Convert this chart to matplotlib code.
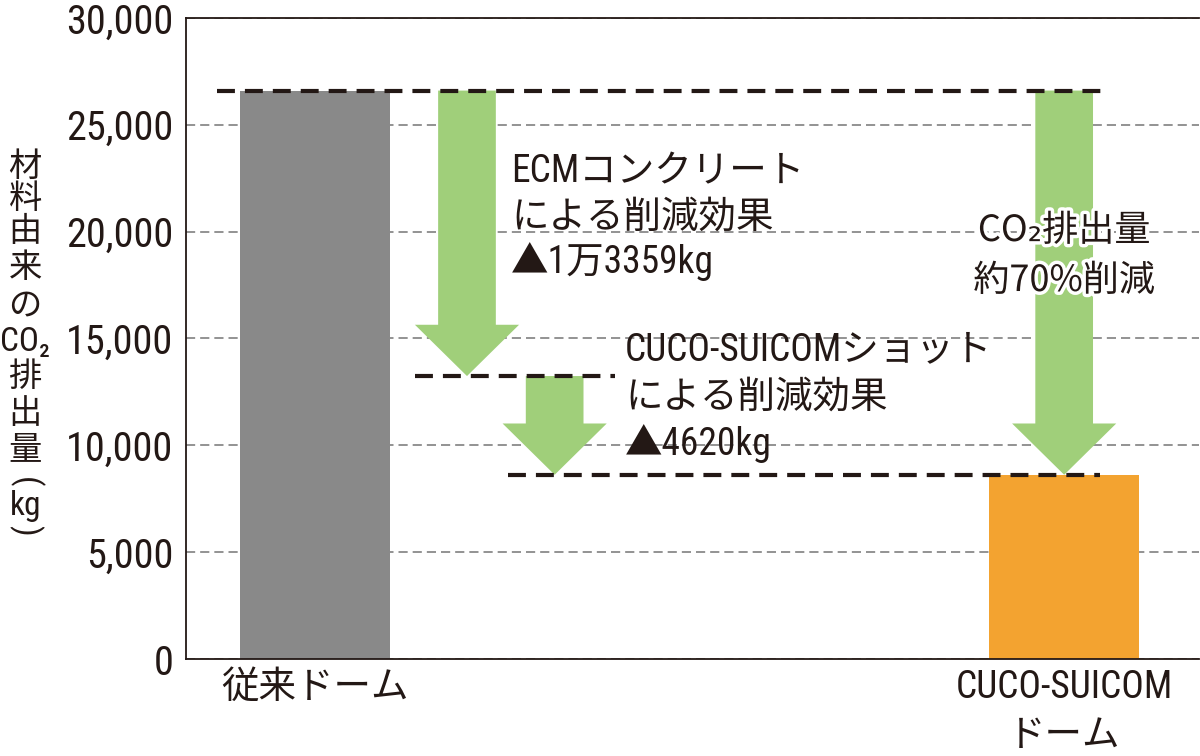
import matplotlib
matplotlib.use('Agg')
import matplotlib.pyplot as plt
import matplotlib.patheffects as pe
from matplotlib import font_manager
from matplotlib.patches import FancyArrow

# data
categories = ['従来ドーム', 'CUCO-SUICOM\nドーム']
base_emission = 26600          # 従来ドーム
ecm_cut = 13359                # ECMコンクリート
shot_cut = 4620                # CUCO-SUICOMショット
emissions = [base_emission, base_emission - ecm_cut - shot_cut]
yticks = [0, 5000, 10000, 15000, 20000, 25000, 30000]

INK = '#231815'
GRAY = '#898989'
ORANGE = '#F3A330'
GREEN = '#A0CF7A'

names = {f.name for f in font_manager.fontManager.ttflist}
latin = next((n for n in ['Roboto Condensed', 'Liberation Sans Narrow', 'Liberation Sans'] if n in names),
             'DejaVu Sans')
FONTS = [latin, 'Noto Sans CJK JP', 'DejaVu Sans']
plt.rcParams['font.family'] = FONTS
plt.rcParams['text.color'] = INK

fig = plt.figure(figsize=(12, 7.56), dpi=100)
ax = fig.add_axes([0.155, 0.1283, 0.8442, 0.848])

x = [0, 1]
ax.bar(x, emissions, width=0.2, color=[GRAY, ORANGE], zorder=2)

ax.set_xlim(-0.172, 1.18)
ax.set_ylim(0, 30000)
ax.set_yticks(yticks)
ax.set_yticklabels([f'{v:,}' for v in yticks], fontsize=29, color=INK)
ax.set_xticks(x)
ax.set_xticklabels(categories, fontsize=27, color=INK, linespacing=1.38)
ax.tick_params(axis='y', length=0, pad=9)
ax.tick_params(axis='x', length=0, pad=7)

ax.yaxis.grid(True, linestyle=(0, (5.5, 3)), color='#808080', linewidth=1.2)
ax.set_axisbelow(True)
for side in ['left', 'bottom', 'top']:
    ax.spines[side].set_color(INK)
    ax.spines[side].set_linewidth(1.3)
ax.spines['right'].set_visible(False)

# reference levels
mid_level = base_emission - ecm_cut
low_level = emissions[1]
dash = (0, (4.3, 2.4))
ax.hlines(base_emission, -0.131, 1.055, colors=INK, linewidth=3, linestyles=dash, zorder=4)
ax.hlines(mid_level, 0.134, 0.401, colors=INK, linewidth=3, linestyles=dash, zorder=4)
ax.hlines(low_level, 0.258, 1.048, colors=INK, linewidth=3, linestyles=dash, zorder=4)

# reduction arrows
def down_arrow(xc, top, bottom):
    ax.add_patch(FancyArrow(xc, top, 0, bottom - top, width=0.077, head_width=0.139,
                            head_length=2400, length_includes_head=True,
                            color=GREEN, linewidth=0, zorder=3))

down_arrow(0.203, base_emission, mid_level)
down_arrow(0.320, mid_level, low_level)
down_arrow(1.0, base_emission, low_level)

# annotation lines (baselines in data units)
ecm_lines = ['ECMコンクリート', 'による削減効果', '▲1万3359kg']
for line, yb in zip(ecm_lines, [22320, 20170, 18060]):
    ax.text(0.262, yb, line, fontsize=27, va='baseline', ha='left', zorder=5)

shot_lines = ['CUCO-SUICOMショット', 'による削減効果', '▲4620kg']
for line, yb in zip(shot_lines, [13990, 11750, 9550]):
    ax.text(0.414, yb, line, fontsize=27, va='baseline', ha='left', zorder=5)

total_lines = ['CO₂排出量', '約70%削減']
for line, yb in zip(total_lines, [19560, 17220]):
    ax.text(1.0, yb, line, fontsize=26, ha='center', va='baseline', zorder=5,
            family=['Noto Sans CJK JP', 'DejaVu Sans'],
            path_effects=[pe.withStroke(linewidth=5, foreground='white')])

# vertical y-axis title, one glyph per row; brackets turned for vertical writing
title_rows = ['材', '料', '由', '来', 'の', 'CO₂', '排', '出', '量', '(', 'kg', ')']
row_px = [167, 199, 232, 268, 305, 342, 377, 414, 450, 482, 506, 530]
for ch, py in zip(title_rows, row_px):
    turn = -90 if ch in '()' else 0
    fig.text(0.021, 1 - py / 756, ch, fontsize=24, ha='center', va='center',
             rotation=turn, rotation_mode='anchor')

fig.savefig('out.png', dpi=100)
